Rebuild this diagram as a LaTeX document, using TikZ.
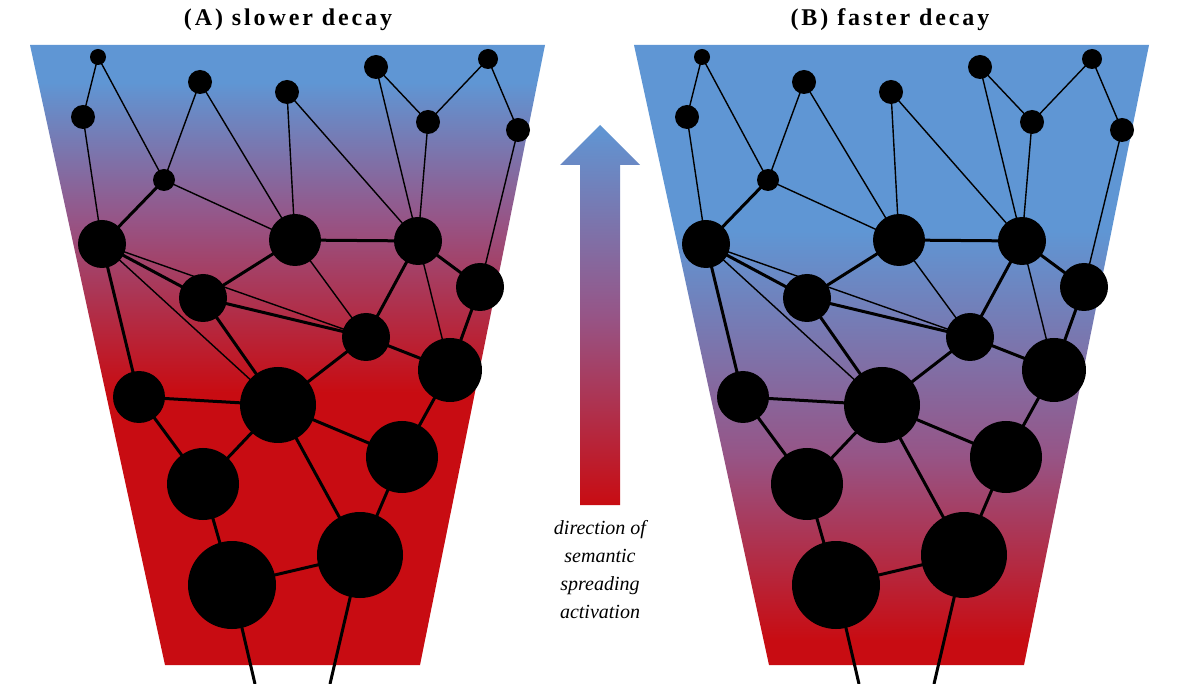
\documentclass[tikz,border=0pt]{standalone}
\usepackage{fontspec}
\setmainfont{Liberation Serif}
\definecolor{bl}{RGB}{95,150,212}
\definecolor{rd}{RGB}{200,12,18}
\definecolor{pu}{RGB}{150,85,135}
\pgfdeclareverticalshading{shA}{100bp}{color(0bp)=(rd); color(47bp)=(rd); color(61bp)=(pu); color(72bp)=(bl); color(100bp)=(bl)}
\pgfdeclareverticalshading{shB}{100bp}{color(0bp)=(rd); color(27bp)=(rd); color(42bp)=(pu); color(60bp)=(bl); color(100bp)=(bl)}
\pgfdeclareverticalshading{shR}{100bp}{color(0bp)=(rd); color(25bp)=(rd); color(50bp)=(pu); color(75bp)=(bl); color(100bp)=(bl)}
\begin{document}
\begin{tikzpicture}[x=1pt,y=-1pt,
  nd/.style={circle,fill=black,inner sep=0pt,minimum size=#1},
  thin edge/.style={line width=1.4pt},
  bold edge/.style={line width=3pt},
  ttl/.style={font=\bfseries\fontsize{24}{28}\selectfont\addfontfeatures{LetterSpace=12}},
  cap text/.style={font=\itshape\fontsize{20}{28}\selectfont,align=center}]
\useasboundingbox (0,0) rectangle (1200,684);
\fill[white] (0,0) rectangle (1200,684);
\foreach \o/\s in {0/shA,604/shB}{
  \shade[shading=\s] (\o+30,45) -- (\o+545,45) -- (\o+420,665) -- (\o+165,665) -- cycle;
}
\foreach \o/\p in {0/a,604/b}{
\begin{scope}[xshift=\o pt,name prefix=\p-]
\node[nd=16pt] (1) at (98,57) {};
\node[nd=24pt] (2) at (200,82) {};
\node[nd=24pt] (3) at (287,92) {};
\node[nd=24pt] (4) at (376,67) {};
\node[nd=20pt] (5) at (488,59) {};
\node[nd=24pt] (6) at (83,117) {};
\node[nd=24pt] (7) at (428,122) {};
\node[nd=24pt] (8) at (518,130) {};
\node[nd=22pt] (9) at (164,180) {};
\node[nd=48pt] (10) at (102,244) {};
\node[nd=52pt] (11) at (295,240) {};
\node[nd=48pt] (12) at (418,241) {};
\node[nd=48pt] (13) at (480,287) {};
\node[nd=48pt] (14) at (203,298) {};
\node[nd=48pt] (15) at (366,337) {};
\node[nd=64pt] (16) at (450,370) {};
\node[nd=52pt] (17) at (139,397) {};
\node[nd=76pt] (18) at (278,405) {};
\node[nd=72pt] (19) at (402,457) {};
\node[nd=72pt] (20) at (203,484) {};
\node[nd=86pt] (21) at (360,555) {};
\node[nd=88pt] (22) at (232,585) {};
\coordinate (e1) at (255,684);
\coordinate (e2) at (330,684);
\foreach \a/\b in {1/6,1/9,6/10,9/2,9/11,2/11,3/11,3/12,4/12,4/7,5/7,5/8,7/12,8/13,10/18,10/15,12/16,11/15}
  \draw[thin edge] (\a.center) -- (\b.center);
\foreach \a/\b in {9/10,10/14,14/11,11/12,12/15,12/13,13/16,10/17,14/15,14/18,15/18,15/16,16/19,17/18,17/20,18/20,18/19,19/21,20/22,22/21,22/e1,21/e2,18/21}
  \draw[bold edge] (\a.center) -- (\b.center);
\end{scope}}
\shade[shading=shR] (580,505) coordinate (ab) -- (580,165) -- (560,165) -- (600,125) coordinate (at) -- (640,165) -- (620,165) -- (620,505) -- cycle;
\node[ttl] (ta) at (288,20) {(A) slower decay};
\node[ttl] (tb) at (890,20) {(B) faster decay};
\node[cap text] (cap) at (600,570) {direction of\\semantic\\spreading\\activation};
\end{tikzpicture}
\end{document}
